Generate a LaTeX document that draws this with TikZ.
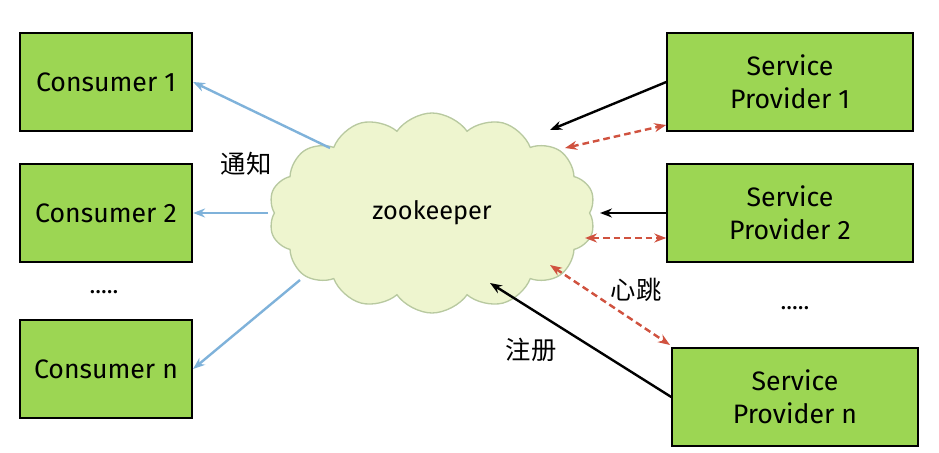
\documentclass[tikz,border=0pt]{standalone}
\usepackage{fontspec}
\setmainfont{Fira Sans}
\newfontfamily\cjk{Noto Sans CJK SC}
\usetikzlibrary{shapes.symbols,arrows.meta}
\definecolor{boxg}{HTML}{9CD653}
\definecolor{cloudf}{HTML}{EEF5CF}
\definecolor{cloudd}{HTML}{B8C9A0}
\definecolor{blu}{HTML}{7FB2DA}
\definecolor{redd}{HTML}{D0523F}
\tikzset{
 box/.style={draw=black,line width=1.6pt,fill=boxg,minimum width=129pt,minimum height=73pt,font=\fontsize{20}{23}\selectfont,align=center,inner sep=0pt},
 pbox/.style={box,minimum width=184pt},
 blue/.style={draw=blu,line width=1.8pt,-{Stealth[length=9pt]}},
 blk/.style={draw=black,line width=1.8pt,-{Stealth[length=9pt]}},
 hb/.style={draw=redd,line width=1.8pt,dash pattern=on 5pt off 3pt,{Stealth[length=9pt]}-{Stealth[length=9pt]}},
 lab/.style={font=\cjk\fontsize{19}{22}\selectfont},
}
\begin{document}
\begin{tikzpicture}[x=0.75pt,y=-0.75pt]
\useasboundingbox (0,0) rectangle (939,453);
\node[box] (c1) at (106,82) {Consumer 1};
\node[box] (c2) at (106,213) {Consumer 2};
\node[box] (cn) at (106,369) {Consumer n};
\node[font=\fontsize{18}{20}\selectfont] (d1) at (104,292) {.....};
\node[pbox] (p1) at (790,82) {Service\\[2pt]Provider 1};
\node[pbox] (p2) at (790,213) {Service\\[2pt]Provider 2};
\node[pbox] (pn) at (795,397) {Service\\[2pt]Provider n};
\node[font=\fontsize{18}{20}\selectfont] (d2) at (795,308) {.....};
\node[cloud,cloud puffs=14,cloud puff arc=110,aspect=1.7,draw=cloudd,line width=1pt,fill=cloudf,minimum width=245pt,minimum height=150pt,font=\fontsize{19}{22}\selectfont] (z) at (432,213) {zookeeper};
\coordinate (b1) at (330,148);
\coordinate (b2) at (268,213);
\coordinate (b3) at (300,280);
\draw[blue] (b1) -- (c1.east);
\draw[blue] (b2) -- (c2.east);
\draw[blue] (b3) -- (cn.east);
\coordinate (k1) at (550,130);
\coordinate (k2) at (600,213);
\coordinate (k3) at (490,283);
\draw[blk] (p1.west) -- (k1);
\draw[blk] (p2.west) -- (k2);
\draw[blk] (pn.west) -- (k3);
\coordinate (h1) at (565,148);
\coordinate (h2) at (585,238);
\coordinate (h3) at (550,265);
\draw[hb] (h1) -- (p1.west |- 0,125);
\draw[hb] (h2) -- (p2.west |- 0,238);
\draw[hb] (h3) -- (670,345);
\node[lab] (t1) at (246,164) {通知};
\node[lab] (t2) at (636,290) {心跳};
\node[lab] (t3) at (531,350) {注册};
\end{tikzpicture}
\end{document}
